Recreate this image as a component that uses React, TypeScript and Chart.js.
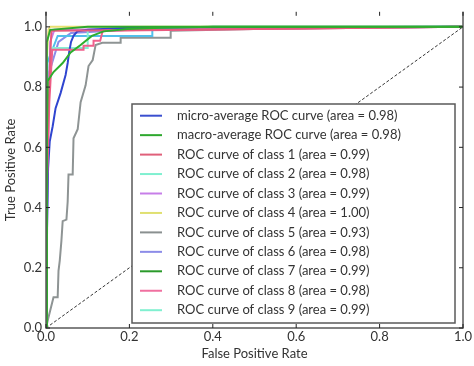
import React, { useEffect, useRef } from "react";
import { Chart, registerables } from "chart.js";

Chart.register(...registerables);

const xTicks = [0, 0.2, 0.4, 0.6, 0.8, 1.0];
const yTicks = [0, 0.2, 0.4, 0.6, 0.8, 1.0];

const seriesLabels = [
  "micro-average ROC curve (area = 0.98)",
  "macro-average ROC curve (area = 0.98)",
  "ROC curve of class 1 (area = 0.99)",
  "ROC curve of class 2 (area = 0.98)",
  "ROC curve of class 3 (area = 0.99)",
  "ROC curve of class 4 (area = 1.00)",
  "ROC curve of class 5 (area = 0.93)",
  "ROC curve of class 6 (area = 0.98)",
  "ROC curve of class 7 (area = 0.99)",
  "ROC curve of class 8 (area = 0.98)",
  "ROC curve of class 9 (area = 0.99)",
];

const lineColors = [
  "#2f45d0", "#2eae2e", "#e85a7c", "#52bfea", "#c77ee8", "#e8e070",
  "#8e9494", "#8c8ce8", "#2ea82e", "#f0608c", "#86f0d4",
];
const legendColors = [
  "#3a4fcf", "#2ea82e", "#e0607a", "#7ff0d0", "#c77ee8", "#e0e070",
  "#8a9090", "#8c8ce8", "#2a9a2a", "#f070a0", "#80f0d0",
];

const microFpr = [0, 0.002, 0.005, 0.009, 0.016, 0.023, 0.035, 0.047, 0.052, 0.056, 0.06, 0.066, 0.075, 0.1, 0.2, 1];
const microTpr = [0, 0.3, 0.53, 0.62, 0.67, 0.73, 0.78, 0.84, 0.88, 0.92, 0.95, 0.97, 0.985, 0.99, 0.997, 1];

const macroFpr = [0, 0.002, 0.004, 0.018, 0.04, 0.059, 0.083, 0.11, 0.138, 0.195, 0.275, 0.4, 1];
const macroTpr = [0, 0.6, 0.82, 0.85, 0.88, 0.915, 0.94, 0.97, 0.985, 0.993, 0.997, 1, 1];

const c1Fpr = [0, 0.002, 0.005, 0.008, 0.01, 0.013, 0.5, 1];
const c1Tpr = [0, 0.55, 0.7, 0.8, 0.9, 0.987, 0.993, 1];

const c2Fpr = [0, 0.003, 0.003, 0.028, 0.255, 0.255, 0.4, 1];
const c2Tpr = [0, 0.5, 0.88, 0.97, 0.97, 0.99, 1, 1];

const c3Fpr = [0, 0.004, 0.006, 0.01, 0.02, 1];
const c3Tpr = [0, 0.5, 0.7, 0.95, 0.99, 1];

const c4Fpr = [0, 0.002, 0.006, 0.01, 1];
const c4Tpr = [0, 0.9, 0.99, 1, 1];

const c5Fpr = [0, 0.006, 0.018, 0.028, 0.03, 0.033, 0.037, 0.04, 0.049, 0.052, 0.054, 0.064, 0.066, 0.076, 0.083, 0.095, 0.102, 0.112, 0.119, 0.135, 0.179, 0.179, 0.299, 0.299, 0.5, 1];
const c5Tpr = [0, 0.036, 0.102, 0.102, 0.19, 0.224, 0.29, 0.355, 0.36, 0.42, 0.51, 0.51, 0.63, 0.66, 0.75, 0.806, 0.87, 0.89, 0.94, 0.947, 0.947, 0.964, 0.964, 0.987, 0.993, 1];

const c6Fpr = [0, 0.003, 0.008, 0.03, 0.06, 0.2, 1];
const c6Tpr = [0, 0.6, 0.85, 0.95, 0.98, 0.99, 1];

const c7Fpr = [0, 0.002, 0.01, 0.1, 1];
const c7Tpr = [0, 0.95, 0.99, 1, 1];

const c8Fpr = [0, 0.003, 0.008, 0.015, 0.09, 0.09, 0.114, 0.114, 0.13, 0.136, 0.5, 1];
const c8Tpr = [0, 0.5, 0.75, 0.924, 0.924, 0.9375, 0.9375, 0.954, 0.954, 0.987, 0.993, 1];

const c9Fpr = [0, 0.003, 0.015, 0.1, 0.1, 1];
const c9Tpr = [0, 0.7, 0.93, 0.93, 0.99, 1];

const diagFpr = [0, 1];
const diagTpr = [0, 1];

const seriesFpr = [microFpr, macroFpr, c1Fpr, c2Fpr, c3Fpr, c4Fpr, c5Fpr, c6Fpr, c7Fpr, c8Fpr, c9Fpr];
const seriesTpr = [microTpr, macroTpr, c1Tpr, c2Tpr, c3Tpr, c4Tpr, c5Tpr, c6Tpr, c7Tpr, c8Tpr, c9Tpr];
const drawOrder = [3, 0, 2, 4, 5, 6, 7, 8, 1, 2, 3];

const FONT = "Lato";
const TEXT = "#333333";
const FRAME = "#5a5a5a";

const framePlugin = {
  id: "frame",
  afterDatasetsDraw(chart: any) {
    const { ctx, chartArea: a, scales } = chart;
    ctx.save();
    ctx.strokeStyle = FRAME;
    ctx.lineWidth = 1.5;
    ctx.beginPath();
    ctx.moveTo(a.left, a.top);
    ctx.lineTo(a.left, a.bottom);
    ctx.lineTo(a.right, a.bottom);
    ctx.lineTo(a.right, a.top);
    ctx.stroke();
    ctx.lineWidth = 1;
    ctx.strokeStyle = "#222";
    const L = 4;
    ctx.beginPath();
    for (const v of xTicks) {
      const x = scales.x.getPixelForValue(v);
      ctx.moveTo(x, a.bottom);
      ctx.lineTo(x, a.bottom - L);
      ctx.moveTo(x, a.top);
      ctx.lineTo(x, a.top + L);
    }
    for (const v of yTicks) {
      const y = scales.y.getPixelForValue(v);
      ctx.moveTo(a.left, y);
      ctx.lineTo(a.left + L, y);
      ctx.moveTo(a.right, y);
      ctx.lineTo(a.right - L, y);
    }
    ctx.stroke();
    ctx.restore();
  },
  afterDraw(chart: any) {
    const { ctx } = chart;
    const bx = 132, by = 104, bw = 323, bh = 219;
    ctx.save();
    ctx.fillStyle = "#ffffff";
    ctx.fillRect(bx, by, bw, bh);
    ctx.strokeStyle = FRAME;
    ctx.lineWidth = 1.5;
    ctx.strokeRect(bx, by, bw, bh);
    ctx.font = `13px ${FONT}`;
    ctx.textBaseline = "middle";
    ctx.fillStyle = TEXT;
    seriesLabels.forEach((lab, i) => {
      const y = 115.7 + i * 19.45;
      ctx.strokeStyle = legendColors[i];
      ctx.lineWidth = 2;
      ctx.beginPath();
      ctx.moveTo(140, y);
      ctx.lineTo(162, y);
      ctx.stroke();
      ctx.fillText(lab, 177, y);
    });
    ctx.restore();
  },
};

export default function App() {
  const ref = useRef<HTMLCanvasElement>(null);
  useEffect(() => {
    document.body.style.margin = "0";
    const datasets: any[] = seriesLabels.map((lab, i) => ({
      label: lab,
      data: seriesFpr[i].map((x, j) => ({ x, y: seriesTpr[i][j] })),
      borderColor: lineColors[i],
      borderWidth: 2,
      pointRadius: 0,
      showLine: true,
      tension: 0,
      order: drawOrder[i],
    }));
    datasets.push({
      label: "diagonal",
      data: diagFpr.map((x, j) => ({ x, y: diagTpr[j] })),
      borderColor: "#000000",
      borderWidth: 0.8,
      borderDash: [3, 2],
      pointRadius: 0,
      showLine: true,
      order: 9,
    });
    const chart = new Chart(ref.current!, {
      type: "scatter",
      data: { datasets },
      plugins: [framePlugin],
      options: {
        animation: false,
        responsive: false,
        maintainAspectRatio: false,
        layout: { padding: { top: 10, right: 11, left: 0, bottom: 0 } },
        plugins: { legend: { display: false }, tooltip: { enabled: false } },
        scales: {
          x: {
            type: "linear",
            min: 0,
            max: 1,
            afterFit: (s: any) => { s.height = 38; },
            afterBuildTicks: (s: any) => { s.ticks = xTicks.map((v) => ({ value: v })); },
            ticks: { font: { family: FONT, size: 13 }, color: TEXT, padding: 1, maxRotation: 0, callback: (v: any) => Number(v).toFixed(1) },
            grid: { display: false, drawTicks: false },
            border: { display: false },
            title: { display: true, text: "False Positive Rate", font: { family: FONT, size: 13 }, color: TEXT, padding: { top: 0, bottom: 4 } },
          },
          y: {
            type: "linear",
            min: 0,
            max: 1.05,
            afterFit: (s: any) => { s.width = 46; },
            afterBuildTicks: (s: any) => { s.ticks = yTicks.map((v) => ({ value: v })); },
            ticks: { font: { family: FONT, size: 13 }, color: TEXT, padding: 4, callback: (v: any) => Number(v).toFixed(1) },
            grid: { display: false, drawTicks: false },
            border: { display: false },
            title: { display: true, text: "True Positive Rate", font: { family: FONT, size: 13 }, color: TEXT, padding: { top: 3, bottom: 0 } },
          },
        },
      },
    });
    return () => chart.destroy();
  }, []);
  return (
    <div style={{ width: 474, height: 366 }}>
      <canvas ref={ref} width={474} height={366} style={{ display: "block" }} />
    </div>
  );
}
